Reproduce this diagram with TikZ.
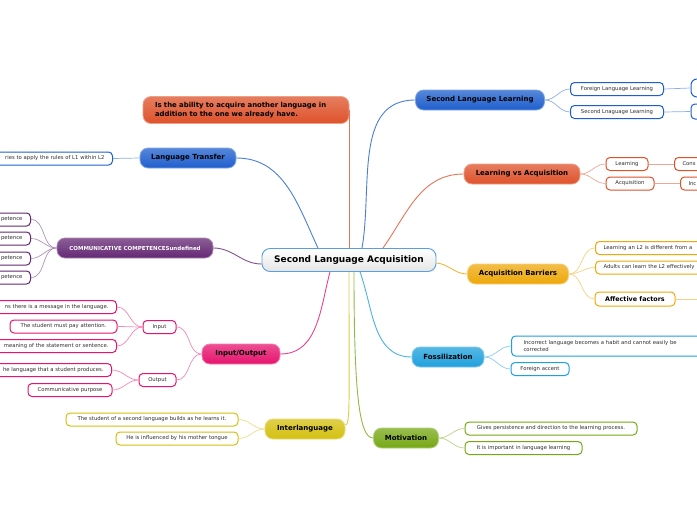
\documentclass[tikz,border=0pt]{standalone}
\usepackage{fontspec}
\setmainfont{DejaVu Sans}
\usepackage{tikz}
\definecolor{coreline}{RGB}{90,160,220}
\definecolor{bluetopic}{RGB}{30,95,205}
\definecolor{redtopic}{RGB}{222,82,42}
\definecolor{goldtopic}{RGB}{238,168,10}
\definecolor{cyantopic}{RGB}{30,160,220}
\definecolor{greentopic}{RGB}{118,168,20}
\definecolor{yellowtopic}{RGB}{212,192,15}
\definecolor{pinktopic}{RGB}{230,20,110}
\definecolor{purpletopic}{RGB}{100,40,115}
\definecolor{leaftext}{RGB}{45,45,45}

\begin{document}
\begin{tikzpicture}[x=1pt,y=-1pt,
    core/.style={draw=coreline, line width=0.9pt, rounded corners=8pt, top color=white, bottom color=black!10,
      minimum width=174pt, minimum height=23pt, inner sep=0pt, text=black, font=\bfseries\fontsize{9}{10}\selectfont},
    topic/.style={draw=#1!55!white, line width=0.8pt, rounded corners=8pt, top color=#1!75!white, bottom color=#1,
      minimum height=20pt, inner sep=0pt, text=black, font=\bfseries\fontsize{7}{8}\selectfont},
    leaf/.style={draw=#1, line width=1pt, fill=white, rounded corners=4pt, minimum height=13pt,
      inner sep=0pt, inner xsep=8pt, text=leaftext, font=\fontsize{5.3}{6.3}\selectfont},
    link/.style={draw=#1!80!white, line width=0.9pt},
    twig/.style={draw=#1!50!white, line width=0.7pt}
  ]
\useasboundingbox (0,0) rectangle (697,520);
\fill[white] (0,0) rectangle (697,520);
\clip (0,0) rectangle (697,520);

% centre and main topics
\node[core] (sla) at (349,260) {Second Language Acquisition};
\node[topic=redtopic, minimum width=206pt, minimum height=27pt, inner xsep=12pt, text width=182pt, align=left,
  font=\bfseries\fontsize{6.9}{8.6}\selectfont] (def) at (246,110)
  {Is the ability to acquire another language in\\addition to the one we already have.};
\node[topic=bluetopic, minimum width=96pt] (lt) at (188,158) {Language Transfer};
\node[topic=bluetopic, minimum width=129pt] (sll) at (480,100) {Second Language Learning};
\node[topic=redtopic, minimum width=116pt] (lva) at (522,174) {Learning vs Acquisition};
\node[topic=goldtopic, minimum width=101pt] (ab) at (518,274) {Acquisition Barriers};
\node[topic=cyantopic, minimum width=72pt] (fos) at (448,357) {Fossilization};
\node[topic=greentopic, minimum width=65pt] (mot) at (406,438) {Motivation};
\node[topic=yellowtopic, minimum width=80pt] (il) at (305,429) {Interlanguage};
\node[topic=pinktopic, minimum width=78pt] (io) at (241,354) {Input/Output};
\node[topic=purpletopic, minimum width=156pt, text=white, font=\bfseries\fontsize{5.5}{6.5}\selectfont] (cc) at (135,248)
  {COMMUNICATIVE COMPETENCESundefined};

% leaves
\node[leaf=bluetopic, anchor=east, text width=170pt, align=right] (lt1) at (113,158.5) {ries to apply the rules of L1 within L2};

\node[leaf=bluetopic, minimum width=93pt] (sll1) at (617,89) {Foreign Language Learning};
\node[leaf=bluetopic, minimum width=93pt] (sll2) at (617,112) {Second Lnaguage Learning};
\node[leaf=bluetopic, anchor=west, minimum width=30pt, minimum height=18pt, rounded corners=6pt] (sll1x) at (690.5,88) {};
\node[leaf=bluetopic, anchor=west, minimum width=30pt, minimum height=15pt] (sll2x) at (690.5,111.5) {};

\node[leaf=redtopic, minimum width=42pt] (lva1) at (627,164) {Learning};
\node[leaf=redtopic, minimum width=48pt] (lva2) at (630,183.5) {Acquisition};
\node[leaf=redtopic, anchor=west, text width=60pt, align=left] (lva1x) at (674,164) {Cons};
\node[leaf=redtopic, anchor=west, text width=60pt, align=left] (lva2x) at (680,183.5) {Inc};

\node[leaf=goldtopic, anchor=west, text width=170pt, align=left] (ab1) at (595,248) {Learning an L2 is different from a};
\node[leaf=goldtopic, anchor=west, text width=170pt, align=left] (ab2) at (595,267.5) {Adults can learn the L2 effectively};
\node[leaf=goldtopic, minimum width=80pt, minimum height=14pt, text=black, font=\bfseries\fontsize{6.4}{7.4}\selectfont] (ab3) at (635,299) {Affective factors};
\coordinate (ab3x) at (700,299);

\node[leaf=cyantopic, anchor=west, minimum height=20pt, inner xsep=12pt, text width=220pt, align=left] (fos1) at (511,346)
  {Incorrect language becomes a habit and cannot easily be\\corrected};
\node[leaf=cyantopic, minimum width=58pt] (fos2) at (540,369) {Foreign accent};

\node[leaf=greentopic, minimum width=172pt] (mot1) at (551,428.5) {Gives persistence and direction to the learning process.};
\node[leaf=greentopic, minimum width=117pt] (mot2) at (523.5,448) {It is important in language learning};

\node[leaf=yellowtopic, minimum width=172pt] (il1) at (152,419.5) {The student of a second language builds as he learns it.};
\node[leaf=yellowtopic, minimum width=122pt] (il2) at (177,438.5) {He is influenced by his mother tongue};

\node[leaf=pinktopic, minimum width=33pt] (io1) at (159.5,327) {Input};
\node[leaf=pinktopic, minimum width=37pt] (io2) at (157.5,380) {Output};
\node[leaf=pinktopic, anchor=east, text width=170pt, align=right] (in1) at (117,307) {ns there is a message in the language.};
\node[leaf=pinktopic, minimum width=107pt] (in2) at (63.5,326.5) {The student must pay attention.};
\node[leaf=pinktopic, anchor=east, text width=170pt, align=right] (in3) at (117,346) {meaning of the statement or sentence.};
\node[leaf=pinktopic, anchor=east, text width=170pt, align=right] (out1) at (112,370) {he language that a student produces.};
\node[leaf=pinktopic, minimum width=84pt] (out2) at (70,390) {Communicative purpose};

\foreach \y [count=\i] in {219.5,238.5,258.5,277.5}
  \node[leaf=purpletopic, anchor=east, text width=60pt, align=right] (cc\i) at (31,\y) {petence};

% main links
\draw[link=bluetopic] ([xshift=-31pt]sla.north) to[out=115,in=0] (lt.east);
\draw[link=redtopic] (sla.north) |- (def.east);
\draw[link=bluetopic] ([xshift=13pt]sla.north) to[out=80,in=180] (sll.west);
\draw[link=redtopic] ([xshift=34pt]sla.north) to[out=55,in=180] (lva.west);
\draw[link=goldtopic] ([yshift=-3pt]sla.east) to[out=-5,in=180] (ab.west);
\draw[link=cyantopic] ([xshift=11pt]sla.south) to[out=-70,in=180] (fos.west);
\draw[link=greentopic] ([xshift=5pt]sla.south) .. controls +(0,120) and +(-14,0) .. (mot.west);
\draw[link=yellowtopic] (sla.south) .. controls +(0,130) and +(5,0) .. ([yshift=4pt]il.east);
\draw[link=pinktopic] ([xshift=-19pt]sla.south) to[out=-105,in=0] (io.east);
\draw[link=purpletopic] ([yshift=-4pt]sla.west) to[out=180,in=0] (cc.east);

% leaf links
\draw[twig=bluetopic] (lt.west) -- (lt1.east);
\foreach \n in {sll1,sll2} \draw[twig=bluetopic] (sll.east) to[out=0,in=180] (\n.west);
\draw[twig=bluetopic] (sll1.east) -- (sll1x.west);
\draw[twig=bluetopic] (sll2.east) -- (sll2x.west);
\foreach \n in {lva1,lva2} \draw[twig=redtopic] (lva.east) to[out=0,in=180] (\n.west);
\draw[twig=redtopic] (lva1.east) -- (lva1x.west);
\draw[twig=redtopic] (lva2.east) -- (lva2x.west);
\foreach \n in {ab1,ab2,ab3} \draw[twig=goldtopic] (ab.east) to[out=0,in=180] (\n.west);
\draw[twig=goldtopic] (ab3.east) -- (ab3x);
\foreach \n in {fos1,fos2} \draw[twig=cyantopic] (fos.east) to[out=0,in=180] (\n.west);
\foreach \n in {mot1,mot2} \draw[twig=greentopic] (mot.east) to[out=0,in=180] (\n.west);
\foreach \n in {il1,il2} \draw[twig=yellowtopic] (il.west) to[out=180,in=0] (\n.east);
\foreach \n in {io1,io2} \draw[twig=pinktopic] (io.west) to[out=180,in=0] (\n.east);
\foreach \n in {in1,in2,in3} \draw[twig=pinktopic] (io1.west) to[out=180,in=0] (\n.east);
\foreach \n in {out1,out2} \draw[twig=pinktopic] (io2.west) to[out=180,in=0] (\n.east);
\foreach \i in {1,...,4} \draw[twig=purpletopic] (cc.west) to[out=180,in=0] (cc\i.east);
\end{tikzpicture}
\end{document}
